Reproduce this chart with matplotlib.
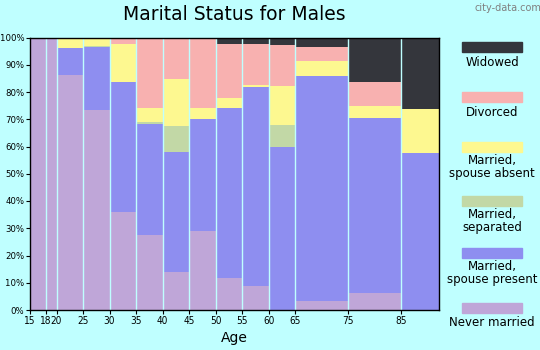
import matplotlib
matplotlib.use("Agg")
import matplotlib.pyplot as plt
from matplotlib.patches import Rectangle

edges = [15, 18, 20, 25, 30, 35, 40, 45, 50, 55, 60, 65, 75, 85, 92.2]
xtick_vals = [15, 18, 20, 25, 30, 35, 40, 45, 50, 55, 60, 65, 75, 85]

never_married   = [100, 100, 86.2, 73.3, 35.9, 27.5, 13.9, 29.0, 11.7, 8.8, 0.0, 3.3, 6.2, 0.0]
spouse_present  = [0, 0, 9.9, 23.3, 47.7, 40.7, 44.0, 41.0, 62.4, 73.0, 59.8, 82.5, 64.2, 57.6]
separated       = [0, 0, 0.0, 0.4, 0.0, 0.8, 9.6, 0.0, 0.0, 0.0, 8.0, 0.0, 0.0, 0.0]
spouse_absent   = [0, 0, 3.9, 3.0, 14.0, 5.3, 17.2, 4.3, 3.7, 0.7, 14.4, 5.5, 4.4, 16.1]
divorced        = [0, 0, 0.0, 0.0, 2.4, 25.7, 15.3, 25.7, 19.8, 15.1, 15.0, 5.2, 8.8, 0.0]
widowed         = [0, 0, 0.0, 0.0, 0.0, 0.0, 0.0, 0.0, 2.4, 2.4, 2.8, 3.5, 16.4, 26.3]

series = [never_married, spouse_present, separated, spouse_absent, divorced, widowed]
labels = ["Never married", "Married,\nspouse present", "Married,\nseparated",
          "Married,\nspouse absent", "Divorced", "Widowed"]
colors = ["#bfa6d8", "#8e8ef0", "#c2d8a6", "#fdf890", "#f8b1b0", "#34363c"]
bg = "#bfffff"

fig = plt.figure(figsize=(5.4, 3.5), dpi=100, facecolor=bg)
ax = fig.add_axes([30/540, 1-310/350, (439.3-30)/540, (310-37.5)/350])
ax.set_facecolor(bg)

for i in range(len(edges)-1):
    x0, x1 = edges[i], edges[i+1]
    bottom = 0
    for s, c in zip(series, colors):
        v = s[i]
        if v > 0:
            ax.bar(x0, v, width=x1-x0, bottom=bottom, align='edge', color=c,
                   edgecolor='none', linewidth=0)
        bottom += v
    if i > 0:
        ax.axvline(x0, color=bg, lw=1.0, zorder=3)

ax.set_xlim(edges[0], edges[-1])
ax.set_ylim(0, 100)
ax.set_yticks(range(0, 101, 10))
ax.set_yticklabels([f"{v}%" for v in range(0, 101, 10)], fontsize=6.8,
                   family="DejaVu Sans", fontstretch="condensed")
ax.set_xticks(xtick_vals)
ax.set_xticklabels([str(v) for v in xtick_vals], fontsize=7.2,
                   family="DejaVu Sans", fontstretch="condensed")
ax.tick_params(axis='both', length=3, width=0.8, pad=1, colors='black')
for sp in ax.spines.values():
    sp.set_color('black')
    sp.set_linewidth(1.0)
    sp.set_zorder(5)
ax.set_xlabel("Age", fontsize=10, labelpad=4)

fig.text(234/540, 1-15/350, "Marital Status for Males", fontsize=13.5,
         ha='center', va='center')
fig.text(508/540, 1-8/350, "city-data.com", fontsize=7, color='#808080',
         ha='center', va='center')

# legend
patch_y = [307.7, 252.7, 200.7, 146.7, 96.7, 46.7]
text_y = [323, 273, 221, 167, 112, 62]
for lab, c, py, ty in zip(labels, colors, patch_y, text_y):
    fig.patches.append(Rectangle((462/540, 1-(py+5)/350), 60/540, 10/350,
                                 transform=fig.transFigure, color=c))
    fig.text(492/540, 1-ty/350, lab, fontsize=8.5, ha='center', va='center',
             linespacing=1.0)

fig.savefig("out.png", dpi=100, facecolor=bg)
